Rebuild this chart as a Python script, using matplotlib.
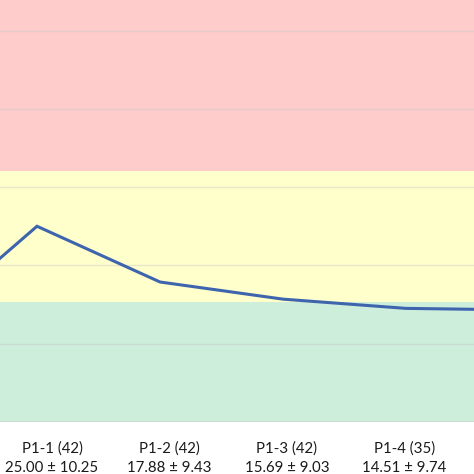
import matplotlib
matplotlib.use("Agg")
import matplotlib.pyplot as plt
import numpy as np

# Data (first/last points lie outside the visible crop)
positions = [-1, 0, 1, 2, 3, 4]
values = [11.4, 25.00, 17.88, 15.69, 14.51, 14.3]
categories = ["P1-1 (42)", "P1-2 (42)", "P1-3 (42)", "P1-4 (35)"]
stats = ["25.00 ± 10.25", "17.88 ± 9.43", "15.69 ± 9.03", "14.51 ± 9.74"]
bands = [(0, 15.3, "#CCEEDB"), (15.3, 32.0, "#FFFFCC"), (32.0, 60, "#FFCCCC")]
grid_vals = [10, 20, 30, 40, 50]

W = H = 4.74
fig = plt.figure(figsize=(W, H), dpi=100)
fig.patch.set_facecolor("white")

ax_h = 422 / 474
ax = fig.add_axes([0, 1 - ax_h, 1, ax_h])
for lo, hi, c in bands:
    ax.axhspan(lo, hi, color=c, zorder=0, lw=0)
for g in grid_vals:
    ax.axhline(g, color="#C8C8C8", alpha=0.45, lw=1.0, zorder=1)
ax.axhline(0, color="#C8D8CC", lw=1.2, zorder=1)
ax.plot(positions, values, color="#3E64AE", lw=2.2, zorder=3, solid_joinstyle="miter")
ax.set_ylim(0, 422 / 7.83)
ax.set_xlim(-37 / 123, (474 - 37) / 123)
ax.axis("off")

# label axis (table-like labels below the plot)
lab = fig.add_axes([0, 0, 1, 1 - ax_h])
lab.set_xlim(-52 / 117.5, (474 - 52) / 117.5)
lab.set_ylim(0, 1)
lab.axis("off")
for i, (c, s) in enumerate(zip(categories, stats)):
    lab.text(i, 0.49, c, ha="center", va="center", fontsize=10.8, family="Lato", color="#1a1a1a")
    lab.text(i, 0.11, s, ha="center", va="center", fontsize=10.8, family="Lato", color="#1a1a1a")

fig.savefig("out.png", dpi=100)
